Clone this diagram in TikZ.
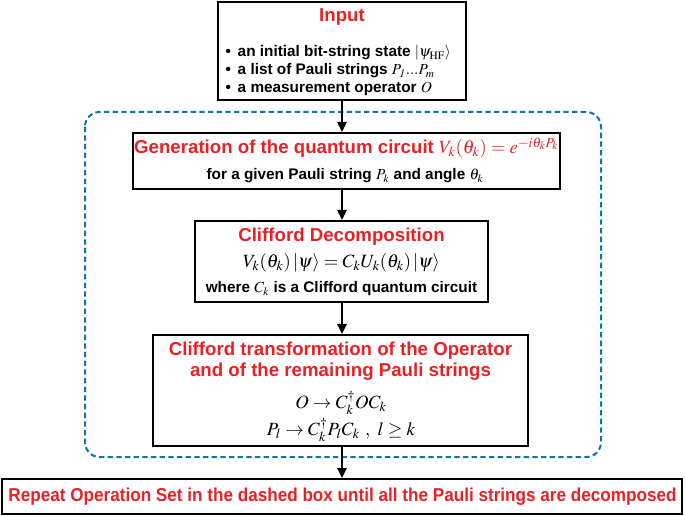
\documentclass[tikz,border=0pt]{standalone}
\usepackage{mathptmx}
\usepackage[no-math]{fontspec}
\setmainfont{Liberation Sans}
\usetikzlibrary{arrows.meta}
\definecolor{titlered}{RGB}{236,32,36}
\definecolor{loopblue}{RGB}{10,120,170}
\begin{document}
\begin{tikzpicture}[x=0.75pt,y=-0.75pt,
    box/.style={draw,line width=1.5pt,inner sep=0pt},
    title/.style={text=titlered,font=\fontsize{14}{16}\selectfont\bfseries},
    body/.style={font=\fontsize{11.5}{13}\selectfont\bfseries},
    eqn/.style={font=\fontsize{14}{16}\selectfont},
    flow/.style={line width=1.5pt,-{Triangle[length=7.5pt,width=7pt]}}]
    \useasboundingbox (0,0) rectangle (685,516);

    % dashed loop region
    \draw[loopblue,line width=1.5pt,dash pattern=on 4pt off 2.5pt,rounded corners=11pt] (85,112) rectangle (601,457);

    % input
    \node[box,minimum width=186pt,minimum height=73.5pt] (in) at (342,51) {};
    \node[title] (intitle) at (342,17) {Input};
    \node[body,anchor=west] (in1) at (221,53) {\textbullet\hspace{5pt}an initial bit-string state $|\psi_{\mathrm{HF}}\rangle$};
    \node[body,anchor=west] (in2) at (221,71) {\textbullet\hspace{5pt}a list of Pauli strings $P_{\mathit{1}}\mathbf{...}P_m$};
    \node[body,anchor=west] (in3) at (221,89) {\textbullet\hspace{5pt}a measurement operator $O$};

    % generation of the circuit
    \node[box,minimum width=320.25pt,minimum height=42pt] (gen) at (346.5,161) {};
    \node[title] (gentitle) at (346.5,148) {Generation of the quantum circuit $V_k(\theta_k)=e^{-i\theta_kP_k}$};
    \node[body] (gentext) at (345,176) {for a given Pauli string $P_k$ and angle $\theta_k$};

    % clifford decomposition
    \node[box,minimum width=219.75pt,minimum height=60.75pt] (dec) at (341.5,261.5) {};
    \node[title] (dectitle) at (341.5,237) {Clifford Decomposition};
    \node[eqn] (deceq) at (341.5,263) {$V_k(\theta_k)\,|\psi\rangle = C_kU_k(\theta_k)\,|\psi\rangle$};
    \node[body] (dectext) at (341.5,289) {where $C_k$ is a Clifford quantum circuit};

    % clifford transformation
    \node[box,minimum width=281.25pt,minimum height=83.25pt] (trans) at (340.5,390.5) {};
    \node[title,align=center] (transtitle) at (340.5,361) {Clifford transformation of the Operator\\[0pt]and of the remaining Pauli strings};
    \node[eqn] (transeqa) at (341,403) {$O \rightarrow C_k^{\dagger}OC_k$};
    \node[eqn] (transeqb) at (341,430) {$P_l \rightarrow C_k^{\dagger}P_lC_k\ ,\ l \geq k$};

    % repeat
    \node[box,minimum width=510pt,minimum height=26.25pt] (rep) at (342,496.5) {};
    \node[text=titlered,font=\fontsize{14}{16}\selectfont\bfseries] (reptext) at (342.5,497)
        {\resizebox{501pt}{\height}{Repeat Operation Set in the dashed box until all the Pauli strings are decomposed}};

    \draw[flow] (in.south) -- (in.south |- gen.north);
    \draw[flow] (gen.south -| in.south) -- (in.south |- dec.north);
    \draw[flow] (dec.south -| in.south) -- (in.south |- trans.north);
    \draw[flow] (trans.south -| in.south) -- (in.south |- rep.north);
\end{tikzpicture}
\end{document}
